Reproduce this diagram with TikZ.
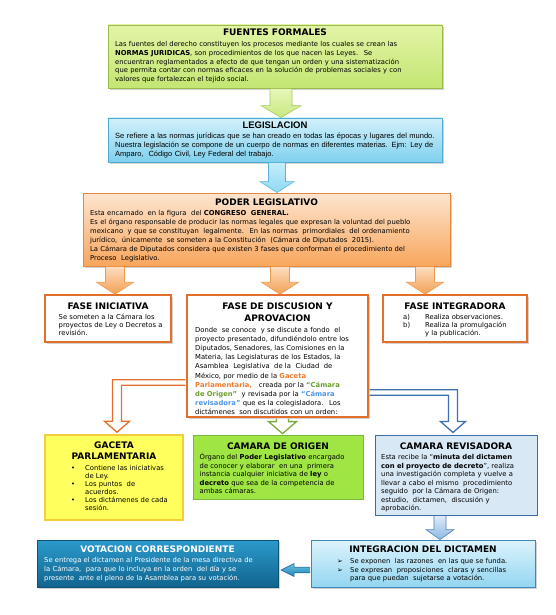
\documentclass[tikz,border=0pt]{standalone}
\usepackage{fontspec}
\setmainfont{DejaVu Sans}
\newfontfamily\arialf{Liberation Sans}
\usetikzlibrary{calc,shadows}
\definecolor{fuT}{HTML}{E3F4A6}\definecolor{fuB}{HTML}{C3E673}\definecolor{fuD}{HTML}{9BBB4C}
\definecolor{leT}{HTML}{D2F1FB}\definecolor{leB}{HTML}{7FD0EE}\definecolor{leD}{HTML}{4FA9D0}
\definecolor{poT}{HTML}{FDE5D0}\definecolor{poB}{HTML}{F8A65C}\definecolor{poD}{HTML}{E6893C}
\definecolor{faD}{HTML}{E2702C}
\definecolor{gacF}{HTML}{FFFF5E}\definecolor{gacD}{HTML}{F2CF3A}
\definecolor{oriF}{HTML}{9FE644}\definecolor{oriD}{HTML}{78B83A}
\definecolor{revF}{HTML}{D8E8F5}\definecolor{revD}{HTML}{3A6CA8}
\definecolor{itT}{HTML}{DDF3FC}\definecolor{itB}{HTML}{93D6F1}\definecolor{itD}{HTML}{3F86BD}
\definecolor{voT}{HTML}{2B9ACB}\definecolor{voB}{HTML}{11648F}\definecolor{voD}{HTML}{0E5276}
\definecolor{oaT}{HTML}{FDDCBF}\definecolor{oaB}{HTML}{F4A154}\definecolor{oaD}{HTML}{EE9A4E}
\definecolor{gaT}{HTML}{E6F7B8}\definecolor{gaB}{HTML}{C8E880}\definecolor{gaD}{HTML}{A9C95E}
\definecolor{baT}{HTML}{C4EDFA}\definecolor{baB}{HTML}{8FD9F3}\definecolor{baD}{HTML}{5BB5DC}
\definecolor{orH}{HTML}{E2702C}\definecolor{grH}{HTML}{7AAA3E}\definecolor{blH}{HTML}{3F6FAE}
\definecolor{rbT}{HTML}{DDEBF7}\definecolor{rbB}{HTML}{8DB8E4}\definecolor{rbD}{HTML}{4F7EB9}
\definecolor{vaT}{HTML}{69C0E2}\definecolor{vaB}{HTML}{1F86B6}\definecolor{vaD}{HTML}{1B6D98}
\definecolor{gacT}{HTML}{F07A2B}\definecolor{oriT}{HTML}{6E9E2E}\definecolor{revT}{HTML}{4B95E6}
\newcommand\jl[1]{\makebox[\hsize][s]{#1}\\}
\newcommand\vblk[6]{\path[#1] let \p1=#2, \p2=#3 in (\x1-#4pt,\y1) -- (\x1-#4pt,\y2+#6pt) -- (\x1-#5pt,\y2+#6pt) -- (\x1,\y2) -- (\x1+#5pt,\y2+#6pt) -- (\x1+#4pt,\y2+#6pt) -- (\x1+#4pt,\y1);}
\begin{document}
\begin{tikzpicture}[x=1pt,y=-1pt,
  bx/.style={rectangle, inner sep=0pt},
  shd/.style={drop shadow={shadow xshift=2pt, shadow yshift=-2pt, opacity=0.35}},
  ttl/.style={inner sep=0pt, anchor=base, align=center, font=\fontsize{9}{11.5}\selectfont\bfseries},
  body/.style={inner sep=0pt, anchor=base west, align=left},
  fs/.style={font=\fontsize{6.8}{#1}\selectfont},
  fasebox/.style={bx, fill=white, draw=faD, line width=1.5pt, shd},
  oarr/.style={top color=oaT, bottom color=oaB, draw=oaD, line width=0.6pt},
  hol/.style={fill=white, line width=1.3pt, line join=miter}
]
\useasboundingbox (0,0) rectangle (555,615);
\fill[white] (0,0) rectangle (555,615);

% ---------- boxes ----------
\node[bx, top color=fuT, bottom color=fuB, draw=fuD, line width=0.8pt, shd, minimum width=334pt, minimum height=63pt] (fu) at (275,56.5) {};
\node[bx, top color=leT, bottom color=leB, draw=leD, line width=0.8pt, shd, minimum width=334pt, minimum height=44pt] (le) at (275,140) {};
\node[bx, top color=poT, bottom color=poB, draw=poD, line width=0.8pt, shd, minimum width=367pt, minimum height=73pt] (po) at (266.5,229.5) {};
\node[fasebox, minimum width=126pt, minimum height=47pt] (ini) at (108,318.5) {};
\node[fasebox, minimum width=181pt, minimum height=122pt] (dis) at (277.5,356) {};
\node[fasebox, minimum width=144pt, minimum height=47pt] (ing) at (455,318.5) {};
\node[bx, fill=gacF, draw=gacD, line width=1.5pt, minimum width=138pt, minimum height=85pt] (gac) at (114,477.5) {};
\node[bx, fill=oriF, draw=oriD, line width=0.8pt, minimum width=170pt, minimum height=64pt] (ori) at (278,467) {};
\node[bx, fill=revF, draw=revD, line width=1pt, minimum width=162pt, minimum height=80pt] (rev) at (456,475) {};
\node[bx, top color=itT, bottom color=itB, draw=itD, line width=0.8pt, shd, minimum width=224pt, minimum height=47pt] (itg) at (423,563.5) {};
\node[bx, top color=voT, bottom color=voB, draw=voD, line width=0.8pt, shd, minimum width=241pt, minimum height=47pt] (vot) at (157.5,563.5) {};

% ---------- block arrows ----------
\vblk{top color=gaT, bottom color=gaB, draw=gaD, line width=0.6pt}{($(fu.south)+(6,0.5)$)}{(le.north)}{11}{20}{12}
\vblk{top color=baT, bottom color=baB, draw=baD, line width=0.6pt}{($(le.south)+(2,0.5)$)}{(po.north)}{8.5}{17}{11}
\vblk{oarr}{($(po.south)+(-151.5,0.5)$)}{(ini.north)}{9.5}{18.5}{12}
\vblk{oarr}{($(po.south)+(13.5,0.5)$)}{(dis.north)}{9.5}{18.5}{12}
\vblk{oarr}{($(po.south)+(158.5,0.5)$)}{(ing.north)}{9.5}{18.5}{12}
\vblk{hol, draw=grH}{($(dis.south)+(5,0.8)$)}{($(ori.north)+(0,-1)$)}{6}{14}{12}
\vblk{top color=rbT, bottom color=rbB, draw=rbD, line width=0.6pt}{($(rev.south)+(-16,0.5)$)}{(itg.north)}{6}{14}{10}
\path[top color=vaT, bottom color=vaB, draw=vaD, line width=0.6pt] let \p1=($(itg.west)+(-0.5,6.5)$) in
  (\x1,\y1+2.75pt) -- (\x1-16pt,\y1+2.75pt) -- (\x1-16pt,\y1+6.5pt) -- (\x1-29pt,\y1) -- (\x1-16pt,\y1-6.5pt) -- (\x1-16pt,\y1-2.75pt) -- (\x1,\y1-2.75pt);
% hollow L connectors
\path[hol, draw=orH] let \p1=($(dis.west)+(-0.8,26.5)$), \p2=($(gac.north)+(3,-2)$) in
  (\x1,\y1+2.75pt) -- (\x2-4.5pt,\y1+2.75pt) -- (\x2-4.5pt,\y2+11pt) -- (\x2-12.5pt,\y2+11pt) -- (\x2,\y2) -- (\x2+12.5pt,\y2+11pt) -- (\x2+4.5pt,\y2+11pt) -- (\x2+4.5pt,\y1-2.75pt) -- (\x1,\y1-2.75pt);
\path[hol, draw=blH] let \p1=($(dis.east)+(0.8,36.5)$), \p2=($(rev.north)+(-3,-2)$) in
  (\x1,\y1+2.75pt) -- (\x2+4.5pt,\y1+2.75pt) -- (\x2+4.5pt,\y2+11pt) -- (\x2+12.5pt,\y2+11pt) -- (\x2,\y2) -- (\x2-12.5pt,\y2+11pt) -- (\x2-4.5pt,\y2+11pt) -- (\x2-4.5pt,\y1-2.75pt) -- (\x1,\y1-2.75pt);

% ---------- texts ----------
\node[ttl, text width=300pt] (fut) at (275,35.5) {FUENTES FORMALES};
\node[body, fs=8.6, text width=310pt] (fub) at (115,47) {%
\jl{Las fuentes del derecho constituyen los procesos mediante los cuales se crean las}
\textbf{NORMAS JURIDICAS}, son procedimientos de los que nacen las Leyes. \ Se\\
\jl{encuentran reglamentados a efecto de que tengan un orden y una sistematización}
\jl{que permita contar con normas eficaces en la solución de problemas sociales y con}
valores que fortalezcan el tejido social.};

\node[ttl, text width=300pt, font=\arialf\fontsize{9.5}{11}\selectfont\bfseries] (let) at (275,128.5) {LEGISLACION};
\node[body, text width=313pt, font=\arialf\fontsize{7.5}{9}\selectfont] (leb) at (115,138.5) {%
\jl{Se refiere a las normas jurídicas que se han creado en todas las épocas y lugares del mundo.}
\jl{Nuestra legislación se compone de un cuerpo de normas en diferentes materias. Ejm: Ley de}
Amparo, \ Código Civil, Ley Federal del trabajo.};

\node[ttl, text width=300pt] (pot) at (266.5,205.5) {PODER LEGISLATIVO};
\node[body, fs=9, text width=343pt] (pob) at (90,215) {%
Esta encarnado \ en la figura \ del \textbf{CONGRESO \ GENERAL.}\\
\jl{Es el órgano responsable de producir las normas legales que expresan la voluntad del pueblo}
mexicano \ y que se constituyan \ legalmente. \ En las normas \ primordiales \ del ordenamiento\\
jurídico, \ únicamente \ se someten a la Constitución \ (Cámara de Diputados \ 2015).\\
\jl{La Cámara de Diputados considera que existen 3 fases que conforman el procedimiento del}
Proceso \ Legislativo.};

\node[ttl, text width=120pt] (init) at (108,309) {FASE INICIATIVA};
\node[body, fs=8, text width=109pt] (inib) at (58.5,319) {%
\jl{Se someten a la Cámara los}
\jl{proyectos de Ley o Decretos a}
revisión.};

\node[ttl, text width=175pt] (dist) at (277.5,309.5) {FASE DE DISCUSION Y\\APROVACION};
\node[body, fs=9.1, text width=165pt] (disb) at (195,332.5) {%
Donde \ se conoce \ y se discute a fondo \ el\\
\jl{proyecto presentado, difundiéndolo entre los}
\jl{Diputados, Senadores, las Comisiones en la}
\jl{Materia, las Legislaturas de los Estados, la}
Asamblea \ Legislativa \ de la \ Ciudad \ de\\
México, por medio de la \textcolor{gacT}{\textbf{Gaceta}}\\
\textcolor{gacT}{\textbf{Parlamentaria,}} \ \ creada por la \textcolor{oriT}{\textbf{“Cámara}}\\
\textcolor{oriT}{\textbf{de Origen”}} \ y revisada por la \textcolor{revT}{\textbf{“Cámara}}\\
\jl{\textcolor{revT}{\textbf{revisadora”}} que es la colegisladora. \ Los}
dictámenes \ son discutidos con un orden:};

\node[ttl, text width=140pt] (ingt) at (455,309) {FASE INTEGRADORA};
\node[body, fs=8, text width=130pt] (ingb) at (403,319) {%
\makebox[22pt][l]{a)}Realiza observaciones.\\
\makebox[22pt][l]{b)}Realiza la promulgación\\
\hspace*{22pt}y la publicación.};

\node[ttl, text width=134pt] (gact) at (114,448) {GACETA\\PARLAMENTARIA};
\node[body, fs=8, text width=100pt] (gacb) at (71,470.5) {%
\makebox[14pt][l]{\textbullet}Contiene las iniciativas\\
\hspace*{14pt}de Ley.\\
\makebox[14pt][l]{\textbullet}Los puntos \ de\\
\hspace*{14pt}acuerdos.\\
\makebox[14pt][l]{\textbullet}Los dictámenes de cada\\
\hspace*{14pt}sesión.};

\node[ttl, text width=166pt] (orit) at (278,449) {CAMARA DE ORIGEN};
\node[body, fs=8.5, text width=149pt] (orib) at (199.5,459.5) {%
\jl{Órgano del \textbf{Poder Legislativo} encargado}
de conocer y elaborar \ en una \ primera\\
\jl{instancia cualquier iniciativa de \textbf{ley} o}
\jl{\textbf{decreto} que sea de la competencia de}
ambas cámaras.};

\node[ttl, text width=158pt] (revt) at (456,449) {CAMARA REVISADORA};
\node[body, fs=8.5, text width=148pt] (revb) at (381,459.5) {%
\jl{Esta recibe la “\textbf{minuta del dictamen}}
\jl{\textbf{con el proyecto de decreto}”, realiza}
\jl{una investigación completa y vuelve a}
llevar a cabo el mismo \ procedimiento\\
seguido \ por la Cámara de Origen:\\
estudio, \ dictamen, \ discusión y\\
aprobación.};

\node[ttl, text width=220pt] (itgt) at (423,552) {INTEGRACION DEL DICTAMEN};
\node[body, fs=8.5, text width=185pt] (itgb) at (337,563.5) {%
\makebox[13pt][l]{➢}Se exponen \ las razones \ en las que se funda.\\
\makebox[13pt][l]{➢}Se expresan \ proposiciones \ claras y sencillas\\
\hspace*{13pt}para que puedan \ sujetarse a votación.};

\node[ttl, text width=236pt, text=white] (vott) at (157.5,552) {VOTACION CORRESPONDIENTE};
\node[body, fs=9, text width=226pt, text=white] (votb) at (44,562) {%
\jl{Se entrega el dictamen al Presidente de la mesa directiva de}
la Cámara, \ para que lo incluya en la orden \ del día y se\\
presente \ ante el pleno de la Asamblea para su votación.};
\end{tikzpicture}
\end{document}
